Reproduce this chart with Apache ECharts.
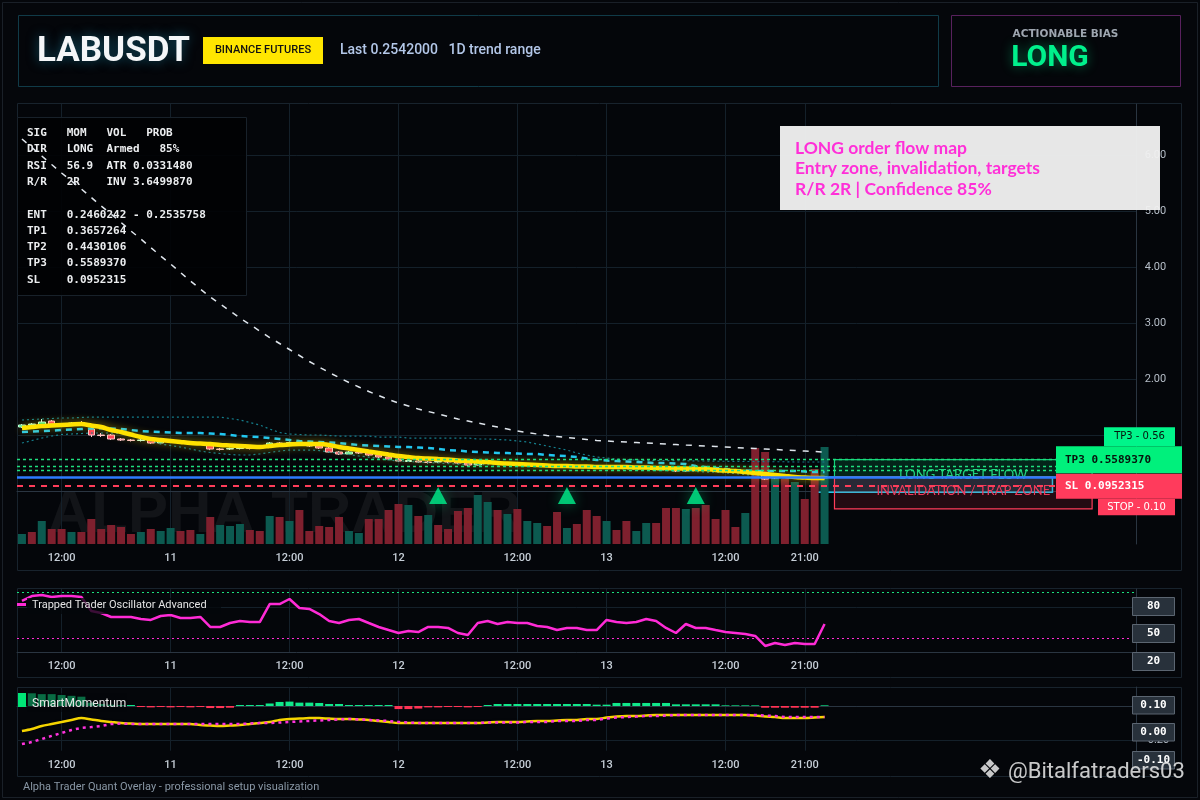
<!DOCTYPE html>
<html><head><meta charset="utf-8"><title>LABUSDT</title>
<script src="https://cdn.jsdelivr.net/npm/echarts@6/dist/echarts.min.js"></script>
<style>html,body{margin:0;padding:0;background:#05070b;}#chart{width:1200px;height:800px;}</style>
</head><body><div id="chart"></div>
<script>
// ---------------- data ----------------
const symbolName = 'LABUSDT';
const exchangeName = 'BINANCE FUTURES';
const lastPrice = 0.2542000;
const rangeText = '1D trend range';
const biasText = 'LONG';
const slotCount = 113;
const tickIndex = [4, 15, 27, 38, 50, 59, 71, 79];
const tickText = ['12:00', '11', '12:00', '12', '12:00', '13', '12:00', '21:00'];
const priceTicks = [0, 1, 2, 3, 4, 5, 6];
const priceMin = -0.946, priceMax = 6.911;
const volumeMax = 440;
const oscMin = 30, oscMax = 100, oscTicks = [80];
const smMin = -0.263, smMax = 0.112, smTicks = [-0.2, 0];
const oscBoxLabels = ['80', '50', '20'];
const smBoxLabels = ['0.10', '0.00', '-0.10'];

// [open, close, low, high]
const ohlc = [
 [1.143,1.179,1.125,1.196],[1.179,1.196,1.161,1.214],[1.161,1.232,1.150,1.286],[1.250,1.196,1.180,1.268],[1.196,1.179,1.161,1.214],
 [1.196,1.214,1.179,1.232],[1.214,1.196,1.179,1.250],[1.107,1.000,0.964,1.143],[1.000,0.991,0.964,1.036],[1.000,0.929,0.911,1.018],
 [0.929,0.911,0.893,0.946],[0.911,0.902,0.884,0.929],[0.902,0.911,0.884,0.929],[0.911,0.857,0.840,0.929],[0.857,0.893,0.848,0.911],
 [0.893,0.875,0.857,0.911],[0.875,0.866,0.848,0.893],[0.866,0.857,0.840,0.884],[0.857,0.848,0.830,0.875],[0.839,0.750,0.730,0.857],
 [0.750,0.741,0.723,0.768],[0.750,0.759,0.732,0.777],[0.759,0.768,0.741,0.786],[0.768,0.759,0.741,0.786],[0.768,0.786,0.750,0.804],
 [0.804,0.857,0.786,0.875],[0.857,0.848,0.830,0.875],[0.857,0.866,0.839,0.884],[0.875,0.821,0.804,0.893],[0.821,0.804,0.786,0.839],
 [0.804,0.768,0.750,0.821],[0.768,0.696,0.679,0.786],[0.696,0.661,0.643,0.714],[0.661,0.696,0.652,0.714],[0.696,0.679,0.661,0.714],
 [0.679,0.643,0.625,0.696],[0.643,0.607,0.589,0.661],[0.607,0.571,0.554,0.625],[0.571,0.536,0.518,0.589],[0.527,0.545,0.518,0.563],
 [0.536,0.518,0.500,0.554],[0.518,0.509,0.491,0.536],[0.518,0.527,0.500,0.545],[0.527,0.518,0.500,0.545],[0.554,0.500,0.482,0.571],
 [0.500,0.464,0.446,0.518],[0.464,0.518,0.455,0.536],[0.518,0.500,0.482,0.536],[0.500,0.491,0.473,0.518],[0.491,0.482,0.464,0.509],
 [0.482,0.473,0.455,0.500],[0.482,0.464,0.446,0.500],[0.464,0.455,0.438,0.482],[0.464,0.455,0.438,0.482],[0.455,0.446,0.429,0.473],
 [0.446,0.455,0.438,0.473],[0.446,0.438,0.420,0.464],[0.438,0.429,0.411,0.455],[0.429,0.425,0.411,0.446],[0.429,0.438,0.420,0.455],
 [0.438,0.429,0.411,0.455],[0.429,0.420,0.402,0.446],[0.420,0.429,0.411,0.446],[0.429,0.420,0.402,0.438],[0.420,0.411,0.393,0.429],
 [0.411,0.384,0.366,0.420],[0.393,0.357,0.339,0.411],[0.357,0.375,0.348,0.393],[0.375,0.384,0.366,0.402],[0.384,0.375,0.357,0.393],
 [0.375,0.357,0.339,0.384],[0.357,0.348,0.330,0.366],[0.348,0.339,0.321,0.357],[0.339,0.330,0.313,0.348],[0.330,0.304,0.286,0.348],
 [0.321,0.214,0.196,0.339],[0.232,0.268,0.214,0.286],[0.268,0.250,0.232,0.277],[0.250,0.232,0.214,0.259],[0.232,0.241,0.223,0.259],
 [0.241,0.236,0.218,0.250],[0.236,0.2542,0.225,0.265]
];
const volume = [10,12,23,15,15,12,12,25,15,19, 17,10,12,15,13,16,13,14,10,27, 19,18,20,14,13,28,27,23,34,13,
 18,17,27,13,11,25,25,34,40,39, 28,29,19,15,33,36,49,42,34,30, 35,23,21,18,32,16,20,34,28,23,
 14,23,13,21,21,36,36,35,36,39, 25,34,17,31,96,92,67,65,62,45, 75,97];
const volumeUp = [1,0,1,0,0,1,0,0,0,0, 0,0,1,0,1,1,0,0,1,0, 1,1,1,0,0,1,0,1,0,0, 0,0,0,1,1,0,0,0,0,1,
 0,1,0,0,0,0,1,1,0,1, 0,1,1,0,0,1,0,0,0,1, 0,0,1,1,0,0,0,1,0,0, 0,0,0,1,0,0,1,0,1,0, 0,1];
const fastTrend = [1.125,1.143,1.161,1.170,1.179,1.188,1.196,1.170,1.143,1.089,
 1.054,1.009,0.964,0.929,0.911,0.893,0.875,0.857,0.848,0.839,
 0.821,0.813,0.804,0.795,0.786,0.804,0.821,0.830,0.839,0.839,
 0.839,0.821,0.786,0.759,0.732,0.705,0.679,0.652,0.625,0.607,
 0.589,0.580,0.571,0.563,0.545,0.536,0.527,0.518,0.500,0.491,
 0.482,0.473,0.464,0.455,0.446,0.446,0.438,0.438,0.429,0.429,
 0.429,0.429,0.420,0.420,0.411,0.411,0.402,0.402,0.393,0.393,
 0.375,0.366,0.357,0.339,0.321,0.304,0.286,0.268,0.250,0.241,
 0.232,0.232];
const slowTrend = [1.054,1.063,1.071,1.080,1.089,1.098,1.107,1.116,1.125,1.116,
 1.107,1.089,1.071,1.063,1.054,1.045,1.036,1.036,1.036,1.027,
 1.018,1.000,0.982,0.973,0.964,0.946,0.929,0.911,0.893,0.884,
 0.875,0.866,0.857,0.839,0.821,0.813,0.804,0.795,0.786,0.786,
 0.777,0.768,0.750,0.732,0.723,0.705,0.696,0.688,0.679,0.679,
 0.670,0.661,0.661,0.643,0.634,0.625,0.607,0.580,0.554,0.545,
 0.536,0.527,0.518,0.509,0.500,0.500,0.491,0.482,0.446,0.429,
 0.411,0.393,0.375,0.366,0.357,0.357,0.357,0.357,0.357,0.348,
 0.339,0.339];
const bandUpper = [1.268,1.277,1.286,1.295,1.304,1.304,1.313,1.321,1.321,1.321,
 1.321,1.321,1.321,1.321,1.321,1.321,1.321,1.321,1.321,1.321,
 1.321,1.295,1.268,1.223,1.179,1.107,1.045,1.018,1.009,1.000,
 1.000,0.991,0.982,0.982,0.982,0.982,0.964,0.964,0.964,0.946,
 0.946,0.946,0.946,0.946,0.946,0.946,0.929,0.929,0.920,0.911,
 0.893,0.875,0.839,0.804,0.768,0.732,0.679,0.643,0.607,0.589,
 0.571,0.563,0.554,0.545,0.545,0.545,0.541,0.541,0.536,0.536,
 0.532,0.532,0.527,0.527,0.527,0.523,0.523,0.523,0.518,0.518,
 0.518,0.518];
const bandLower = [0.857,0.902,0.946,0.982,1.009,1.018,1.027,1.036,1.036,1.036,
 1.027,1.018,0.964,0.893,0.839,0.813,0.786,0.750,0.714,0.688,
 0.670,0.652,0.643,0.643,0.661,0.688,0.714,0.732,0.732,0.732,
 0.723,0.696,0.679,0.652,0.625,0.607,0.580,0.554,0.536,0.527,
 0.518,0.509,0.500,0.491,0.482,0.482,0.473,0.473,0.464,0.464,
 0.455,0.446,0.446,0.438,0.429,0.429,0.420,0.411,0.411,0.402,
 0.393,0.393,0.384,0.375,0.375,0.366,0.357,0.357,0.348,0.339,
 0.339,0.321,0.313,0.295,0.277,0.259,0.241,0.232,0.223,0.214,
 0.205,0.196];
const decayCurve = [6.286,6.134,5.982,5.830,5.679,5.536,5.393,5.241,5.089,4.946,
 4.795,4.643,4.500,4.348,4.196,4.054,3.902,3.750,3.607,3.464,
 3.339,3.214,3.089,2.973,2.857,2.741,2.634,2.527,2.420,2.313,
 2.214,2.116,2.027,1.938,1.857,1.777,1.705,1.634,1.571,1.518,
 1.464,1.420,1.375,1.330,1.286,1.250,1.214,1.179,1.143,1.107,
 1.071,1.045,1.018,0.991,0.973,0.955,0.938,0.920,0.902,0.893,
 0.884,0.875,0.866,0.857,0.848,0.839,0.830,0.821,0.813,0.804,
 0.795,0.786,0.777,0.768,0.759,0.750,0.741,0.732,0.723,0.714,
 0.705,0.696];
const signalIndex = [42, 55, 68];
const signalLevel = -0.08;
const entryLow = 0.2460242, entryHigh = 0.2535758;
const tp1 = 0.3657264, tp2 = 0.4430106, tp3 = 0.5589370, stopLoss = 0.0952315;
const zoneStart = 82, zoneEnd = 108, entryBoxStart = 80, entryBoxEnd = 104;
const zoneMid = 0.25, entryBoxLow = -0.02, trapLow = -0.32;

const oscillator = [86.7,92.2,93.3,91.1,92.2,92.2,91.1,75.6,73.3,68.9,
 68.9,68.9,66.7,65.6,70.0,71.1,67.8,67.8,68.9,57.8,
 57.8,62.2,64.4,63.3,63.3,83.3,83.3,88.9,78.9,77.8,
 72.2,64.4,62.2,65.6,66.7,62.2,57.8,54.4,51.1,53.3,
 52.2,57.8,57.8,56.7,51.1,48.9,62.2,64.4,61.1,63.3,
 62.2,62.2,58.9,57.8,54.4,56.7,56.7,54.4,54.4,65.6,
 63.3,62.2,63.3,66.7,64.4,56.7,51.1,61.1,56.7,56.7,
 54.4,52.2,51.1,50.0,47.8,36.7,40.0,37.8,40.0,38.9,
 38.9,61.1];
const oscHigh = 96, oscLow = 45;
const smHist = [0.075,0.075,0.07,0.07,0.065,0.06,0.055,0.02,0.012,0.008,0.006,
 0.006,
 -0.006,-0.008,-0.006,-0.008,-0.006,-0.008,-0.006,-0.012,-0.012,-0.010,
 0.006,0.006,0.006,
 0.015,0.024,0.026,0.02,0.02,0.018,0.012,0.012,0.006,0.006,0.006,0.006,0.006,
 -0.018,-0.018,-0.015,-0.008,-0.008,-0.006,-0.006,-0.008,-0.006,
 0.006,0.012,0.012,0.012,0.012,0.012,0.012,0.012,0.012,0.012,0.012,
 0.008,0.008,
 0.018,0.018,0.018,0.018,0.018,0.018,
 0.01,0.01,0.01,0.01,0.01,
 0.004,0.004,0.004,0.004,
 -0.01,-0.01,-0.01,-0.01,-0.01,-0.01,
 0.004];
const smSignal = [-0.147,-0.135,-0.118,-0.106,-0.094,-0.082,-0.071,-0.079,-0.088,-0.094,
 -0.100,-0.103,-0.106,-0.106,-0.106,-0.106,-0.106,-0.106,-0.112,-0.115,
 -0.118,-0.115,-0.112,-0.106,-0.100,-0.094,-0.082,-0.076,-0.074,-0.071,
 -0.071,-0.074,-0.076,-0.076,-0.079,-0.082,-0.088,-0.094,-0.100,-0.100,
 -0.100,-0.100,-0.100,-0.100,-0.100,-0.100,-0.100,-0.097,-0.094,-0.094,
 -0.094,-0.091,-0.088,-0.088,-0.085,-0.082,-0.082,-0.076,-0.076,-0.068,
 -0.062,-0.059,-0.059,-0.056,-0.053,-0.053,-0.053,-0.053,-0.053,-0.053,
 -0.053,-0.053,-0.053,-0.053,-0.056,-0.062,-0.065,-0.071,-0.071,-0.071,
 -0.068,-0.065];
const smTrigger = [-0.224,-0.212,-0.194,-0.176,-0.159,-0.141,-0.129,-0.124,-0.118,-0.106,
 -0.103,-0.106,-0.106,-0.106,-0.106,-0.106,-0.106,-0.106,-0.106,-0.106,
 -0.106,-0.106,-0.106,-0.103,-0.100,-0.100,-0.097,-0.094,-0.091,-0.088,
 -0.085,-0.082,-0.079,-0.076,-0.079,-0.082,-0.085,-0.088,-0.094,-0.097,
 -0.100,-0.100,-0.100,-0.100,-0.100,-0.100,-0.100,-0.097,-0.097,-0.097,
 -0.097,-0.094,-0.094,-0.094,-0.088,-0.088,-0.088,-0.082,-0.082,-0.074,
 -0.068,-0.065,-0.062,-0.059,-0.059,-0.056,-0.053,-0.053,-0.053,-0.053,
 -0.053,-0.053,-0.053,-0.053,-0.053,-0.056,-0.059,-0.065,-0.065,-0.065,
 -0.065,-0.065];

const infoLines = ['SIG   MOM   VOL   PROB','DIR   LONG  Armed   85%','RSI   56.9  ATR 0.0331480','R/R   2R    INV 3.6499870','',
 'ENT   0.2460242 - 0.2535758','TP1   0.3657264','TP2   0.4430106','TP3   0.5589370','SL    0.0952315'];
const noteLines = ['LONG order flow map','Entry zone, invalidation, targets','R/R 2R | Confidence 85%'];
const footerText = 'Alpha Trader Quant Overlay - professional setup visualization';

// ---------------- chart ----------------
const categories = Array.from({length: slotCount}, (_, i) => {
  const k = tickIndex.indexOf(i); return k >= 0 ? tickText[k] : '';
});
const isTick = (i) => tickIndex.indexOf(i) >= 0;
const GRID_LINE = '#14202a', AXIS_LINE = '#2a3541';

function xAxisFor(g) {
  return {type: 'category', gridIndex: g, data: categories, boundaryGap: true,
    axisLine: {show: true, lineStyle: {color: AXIS_LINE}},
    axisTick: {show: false, alignWithLabel: true, interval: isTick},
    axisLabel: {interval: isTick, color: '#c6ced7', fontFamily: 'Roboto', fontWeight: 500, fontSize: 11, margin: 9},
    splitLine: {show: true, alignWithLabel: true, interval: isTick, lineStyle: {color: GRID_LINE}}};
}

const option = {
  animation: false,
  backgroundColor: '#05070b',
  grid: [
    {left: 17, right: 63.3, top: 104, height: 440},
    {left: 17, right: 63.3, top: 589, height: 63},
    {left: 17, right: 63.3, top: 687, height: 63.7}
  ],
  xAxis: [xAxisFor(0), xAxisFor(1), xAxisFor(2)],
  yAxis: [
    {type: 'value', gridIndex: 0, position: 'right', min: priceMin, max: priceMax,
      axisLine: {show: true, lineStyle: {color: AXIS_LINE}},
      axisTick: {show: false, customValues: priceTicks},
      axisLabel: {customValues: priceTicks, formatter: v => v.toFixed(2), color: '#b6bec8', fontFamily: 'Roboto', fontSize: 11, margin: 8},
      splitLine: {show: true, lineStyle: {color: GRID_LINE}}},
    {type: 'value', gridIndex: 0, min: 0, max: volumeMax, show: false, splitLine: {show: false}},
    {type: 'value', gridIndex: 1, position: 'right', min: oscMin, max: oscMax,
      axisLine: {show: true, lineStyle: {color: AXIS_LINE}},
      axisTick: {show: false, customValues: oscTicks},
      axisLabel: {show: false, customValues: oscTicks},
      splitLine: {show: true, lineStyle: {color: GRID_LINE}}},
    {type: 'value', gridIndex: 2, position: 'right', min: smMin, max: smMax,
      axisLine: {show: true, lineStyle: {color: AXIS_LINE}},
      axisTick: {show: false, customValues: smTicks},
      axisLabel: {customValues: smTicks, formatter: v => v.toFixed(2), color: '#b6bec8', fontFamily: 'Roboto', fontSize: 11, margin: 8},
      splitLine: {show: true, lineStyle: {color: GRID_LINE}}}
  ],
  series: [
    {type: 'bar', name: 'Volume', xAxisIndex: 0, yAxisIndex: 1, barWidth: 8, silent: true,
      data: volume.map((v, i) => ({value: v, itemStyle: {color: volumeUp[i] ? '#0c5a50' : '#7f202e'}}))},
    {type: 'line', name: 'Upper band', xAxisIndex: 0, yAxisIndex: 0, data: bandUpper, symbol: 'none', silent: true,
      lineStyle: {color: '#157f8d', width: 1.2, type: [2, 3]}},
    {type: 'line', name: 'Lower band', xAxisIndex: 0, yAxisIndex: 0, data: bandLower, symbol: 'none', silent: true,
      lineStyle: {color: '#157f8d', width: 1.2, type: [2, 3]}},
    {type: 'line', name: 'Decay', xAxisIndex: 0, yAxisIndex: 0, data: decayCurve, symbol: 'none', silent: true,
      lineStyle: {color: '#dfe5ec', width: 1.5, type: [6, 7]}},
    {type: 'line', name: 'Slow', xAxisIndex: 0, yAxisIndex: 0, data: slowTrend, symbol: 'none', silent: true,
      lineStyle: {color: '#1fc7f3', width: 2.5, type: [6, 5]}},
    {type: 'line', name: 'Fast', xAxisIndex: 0, yAxisIndex: 0, data: fastTrend, symbol: 'none', smooth: 0.3, silent: true,
      lineStyle: {color: '#ffe100', width: 4.5, shadowBlur: 8, shadowColor: 'rgba(255,220,0,0.55)'}},
    {type: 'candlestick', name: 'Price', xAxisIndex: 0, yAxisIndex: 0, data: ohlc, barWidth: 7, silent: true,
      itemStyle: {color: '#17e88c', color0: '#ff3d62', borderColor: '#c4ffe2', borderColor0: '#ffc4d0', borderWidth: 1}},
    {type: 'scatter', name: 'Signals', xAxisIndex: 0, yAxisIndex: 0, silent: true,
      data: signalIndex.map(i => [i, signalLevel]), symbol: 'triangle', symbolSize: [18, 17],
      itemStyle: {color: '#00f08c', shadowBlur: 14, shadowColor: 'rgba(0,240,140,0.5)'},
      markArea: {silent: true, data: [
        [{xAxis: entryBoxStart, yAxis: zoneMid, itemStyle: {color: 'rgba(20,110,130,0.35)', borderColor: '#1fc8e8', borderWidth: 1.5}},
         {xAxis: entryBoxEnd, yAxis: entryBoxLow}],
        [{name: 'LONG TARGET FLOW', xAxis: zoneStart, yAxis: tp3, itemStyle: {color: 'rgba(0,200,110,0.16)', borderColor: '#12d27a', borderWidth: 1.2},
          label: {show: true, position: ['50%', '85%'], align: 'center', verticalAlign: 'middle', color: '#22d07f', fontFamily: 'Lato', fontSize: 13}},
         {xAxis: zoneEnd, yAxis: zoneMid}],
        [{name: 'INVALIDATION / TRAP ZONE', xAxis: zoneStart, yAxis: zoneMid, itemStyle: {color: 'rgba(255,50,80,0.13)', borderColor: '#ff3d5a', borderWidth: 1.2},
          label: {show: true, position: ['50%', '44%'], align: 'center', verticalAlign: 'middle', color: '#ee3a5c', fontFamily: 'Lato', fontSize: 13}},
         {xAxis: zoneEnd, yAxis: trapLow}]
      ]},
      markLine: {silent: true, symbol: ['none', 'none'], label: {show: false}, data: [
        {yAxis: tp3, lineStyle: {color: '#1fe07f', type: [3, 3], width: 1.3}},
        {yAxis: tp2, lineStyle: {color: '#1fe07f', type: [3, 3], width: 1.3}},
        {yAxis: tp1, lineStyle: {color: '#1fe07f', type: [3, 3], width: 1.3}},
        {yAxis: (entryLow + entryHigh) / 2, lineStyle: {color: '#2c7bff', type: 'solid', width: 2.5}},
        {yAxis: stopLoss, lineStyle: {color: '#ff3d5a', type: [6, 6], width: 2}}
      ]}},
    {type: 'line', name: 'Trapped Trader Oscillator Advanced', xAxisIndex: 1, yAxisIndex: 2, data: oscillator, symbol: 'none', silent: true,
      lineStyle: {color: '#ff2bd6', width: 2.5},
      markLine: {silent: true, symbol: ['none', 'none'], label: {show: false}, data: [
        {yAxis: oscHigh, lineStyle: {color: '#19e37f', type: [2, 3], width: 1.2}},
        {yAxis: oscLow, lineStyle: {color: '#ff2bd6', type: [2, 3], width: 1.2}}
      ]}},
    {type: 'bar', name: 'SmartMomentum', xAxisIndex: 2, yAxisIndex: 3, barWidth: 8, silent: true,
      data: smHist.map(v => ({value: v, itemStyle: {color: v >= 0 ? '#10e88a' : '#ff3355'}}))},
    {type: 'line', name: 'SM signal', xAxisIndex: 2, yAxisIndex: 3, data: smSignal, symbol: 'none', smooth: 0.3, silent: true,
      lineStyle: {color: '#f5d400', width: 2.5, shadowBlur: 2, shadowColor: 'rgba(0,0,0,0.9)'}},
    {type: 'line', name: 'SM trigger', xAxisIndex: 2, yAxisIndex: 3, data: smTrigger, symbol: 'none', silent: true,
      lineStyle: {color: '#ff33dd', width: 2.5, type: [3, 4]}}
  ]
};

const chart = echarts.init(document.getElementById('chart'), null, {renderer: 'canvas'});
chart.setOption(option);

// ---------- overlays (anchored where they refer to values) ----------
const py = v => chart.convertToPixel({yAxisIndex: 0}, v);
function R(x, y, w, h, fill, stroke, z, lw) {
  return {type: 'rect', silent: true, z: z, shape: {x: x, y: y, width: w, height: h},
    style: {fill: fill || 'none', stroke: stroke || null, lineWidth: lw || 1}};
}
function T(x, y, text, font, fill, z, extra) {
  return {type: 'text', silent: true, z: z, x: x, y: y,
    style: Object.assign({text: text, font: font, fill: fill, align: 'left', verticalAlign: 'middle'}, extra || {})};
}
const yT = py(tp3), yS = py(stopLoss);
const oscTop = 589, smTop = 687;
const g = [];
// frames & panels
g.push(R(2.5, 2.5, 1195, 795, 'none', '#1a2028', -3));
g.push(R(18.5, 15.5, 920, 71, '#04060a', '#103b48', -2));
g.push(R(951.5, 15.5, 229, 71, '#04060a', '#58215d', -2));
g.push(R(17.5, 103.5, 1164, 467, '#04060a', '#18232d', -2));
g.push(R(17.5, 588.5, 1164, 89, '#04060a', '#18232d', -2));
g.push(R(17.5, 687.5, 1164, 89, '#04060a', '#18232d', -2));
// header
g.push(T(37, 52, symbolName, 'bold 35px Roboto', '#f4f6f8', 5, {shadowBlur: 12, shadowColor: 'rgba(30,160,200,0.5)', textShadowBlur: 12, textShadowColor: 'rgba(30,160,200,0.5)'}));
g.push(R(203, 37, 120, 27, '#ffe600', null, 5));
g.push(T(263, 50.5, exchangeName, '500 11px Roboto', '#111111', 6, {align: 'center'}));
g.push(T(340, 50.5, 'Last ' + lastPrice.toFixed(7) + '   ' + rangeText, '500 14px Roboto', '#b3c7e8', 5));
g.push(T(1065.5, 34, 'ACTIONABLE BIAS', 'bold 10.5px "DejaVu Sans"', '#9ea6b0', 5, {align: 'center'}));
g.push(T(1050, 58.5, biasText, 'bold 30px Roboto', '#00f08c', 5, {align: 'center', shadowBlur: 12, shadowColor: 'rgba(0,240,140,0.45)', textShadowBlur: 12, textShadowColor: 'rgba(0,240,140,0.45)'}));
// watermark behind volume
g.push(T(48, 515, 'ALPHA TRADER', 'bold 60px "Liberation Sans"', 'rgba(255,255,255,0.06)', -1));
// info box
g.push(R(17.5, 117.5, 229, 178, 'rgba(1,2,4,0.92)', '#18212a', 1));
g.push(T(27, 125, infoLines.join('\n'), 'bold 11px "DejaVu Sans Mono"', '#eceef0', 1, {verticalAlign: 'top', lineHeight: 16.3}));
// note box
g.push(R(780, 126, 380, 84, 'rgba(240,240,240,0.96)', null, 60));
g.push(T(795, 137.8, noteLines.join('\n'), 'bold 17.5px Lato', '#ff2fd8', 61, {verticalAlign: 'top', lineHeight: 20.5}));
// level tags
g.push(R(1104, yT - 13.5 - 19, 71, 19, '#00f58a', null, 60));
g.push(T(1139.5, yT - 23, 'TP3 - ' + tp3.toFixed(2), '10px "DejaVu Sans"', '#06140c', 61, {align: 'center'}));
g.push(R(1056, yT - 13.5, 126, 27, '#00f07c', null, 62));
g.push(T(1065, yT + 0.5, 'TP3 ' + tp3.toFixed(7), 'bold 11px "DejaVu Sans Mono"', '#06140c', 63));
g.push(R(1056, yS - 12, 126, 25, '#ff3b5c', null, 62));
g.push(T(1065, yS + 0.5, 'SL ' + stopLoss.toFixed(7), 'bold 11px "DejaVu Sans Mono"', '#ffffff', 63));
g.push(R(1098, yS + 13, 77, 16.5, '#ff3b5c', null, 60));
g.push(T(1136.5, yS + 21.5, 'STOP - ' + stopLoss.toFixed(2), '10px "DejaVu Sans"', '#ffffff', 61, {align: 'center'}));
// oscillator legend + boxes
g.push(R(27, oscTop + 9, 194, 16, 'rgba(4,6,10,0.78)', null, 60));
g.push(R(17, oscTop + 14, 9, 3, '#ff2bd6', null, 61));
g.push(T(32, oscTop + 16.5, 'Trapped Trader Oscillator Advanced', '11px Roboto', '#e4e4e4', 61));
[8, 35, 63].forEach((off, k) => {
  g.push(R(1132.5, oscTop + off + 0.5, 42, 18, '#28313b', '#5b6571', 60));
  g.push(T(1153.5, oscTop + off + 9.5, oscBoxLabels[k], 'bold 11px "DejaVu Sans Mono"', '#ffffff', 61, {align: 'center'}));
});
// smart momentum legend + boxes
g.push(R(27, smTop + 6, 100, 19, 'rgba(4,6,10,0.55)', null, 60));
g.push(R(18, smTop + 6, 8, 14, '#00e676', null, 61));
g.push(T(32, smTop + 16.5, 'SmartMomentum', '12px Roboto', '#e6e6e6', 61));
[9, 36, 64].forEach((off, k) => {
  g.push(R(1132.5, smTop + off + 0.5, 42, 17.5, '#28313b', '#5b6571', 60));
  g.push(T(1153.5, smTop + off + 9, smBoxLabels[k], 'bold 11px "DejaVu Sans Mono"', '#ffffff', 61, {align: 'center'}));
});
// footer
g.push(T(23, 787, footerText, '11px Roboto', '#8997a5', 5));
g.push(T(990, 771, '\u2756', '26px "DejaVu Sans"', 'rgba(235,235,235,0.85)', 70, {align: 'center'}));
g.push(T(1008, 772, '@Bitalfatraders03', '22px Roboto', 'rgba(235,235,235,0.85)', 70));

chart.setOption({graphic: {elements: g}});
</script>
</body></html>
